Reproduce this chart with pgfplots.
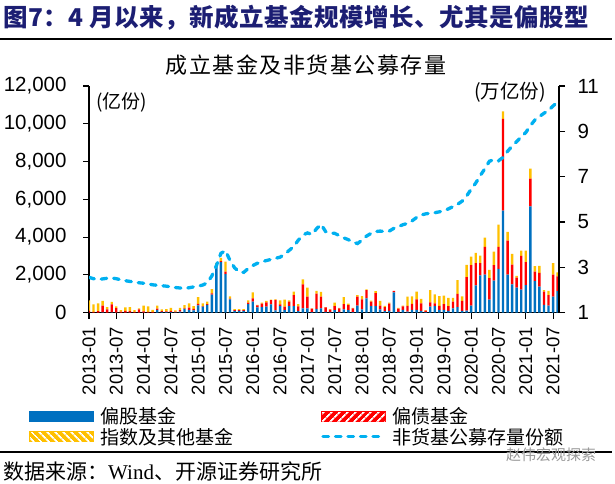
\documentclass[border=0pt]{standalone}
\usepackage{pgfplots}
\pgfplotsset{compat=1.18}
\usepackage{pgfplotstable}
\usepackage{fontspec}
\setmainfont{Liberation Sans}
\newfontfamily\cjk{Noto Sans CJK SC}
\newfontfamily\cjkwide[LetterSpace=7]{Noto Sans CJK SC}
\newfontfamily\cjktitle[LetterSpace=2]{Noto Sans CJK SC}
\newfontfamily\serif{Liberation Serif}
\usetikzlibrary{patterns.meta}

\definecolor{stockblue}{RGB}{0,112,192}
\definecolor{bondred}{RGB}{255,0,0}
\definecolor{otheryellow}{RGB}{255,192,0}
\definecolor{sharecyan}{RGB}{0,176,240}
\definecolor{titlenavy}{RGB}{28,30,115}

% monthly new fund issuance (100m shares) and non-money public fund shares (trillion)
\pgfplotstableread{
idx stock bond other share
0 0 100 550 2.56
1 0 40 400 2.50
2 0 80 420 2.47
3 20 350 260 2.49
4 0 180 120 2.52
5 20 420 130 2.53
6 10 230 90 2.50
7 0 60 70 2.45
8 10 90 180 2.41
9 10 70 210 2.38
10 0 40 100 2.35
11 10 170 50 2.32
12 10 60 300 2.30
13 10 40 280 2.27
14 0 40 110 2.23
15 150 70 160 2.21
16 40 40 100 2.19
17 30 40 120 2.17
18 30 60 160 2.14
19 20 40 60 2.11
20 60 80 120 2.09
21 200 30 170 2.08
22 150 120 230 2.10
23 120 80 150 2.14
24 390 80 350 2.17
25 320 30 140 2.22
26 420 40 120 2.32
27 960 60 230 2.62
28 2450 70 100 3.08
29 2680 50 170 3.62
30 2040 140 520 3.74
31 710 40 110 3.30
32 100 40 50 2.98
33 90 50 50 2.80
34 100 30 60 2.78
35 460 70 120 2.95
36 580 180 320 3.08
37 280 110 20 3.18
38 300 180 50 3.25
39 320 230 70 3.30
40 440 230 20 3.35
41 120 560 20 3.40
42 350 90 210 3.45
43 140 180 370 3.58
44 350 230 70 3.75
45 350 580 180 3.92
46 80 260 110 4.20
47 230 1270 270 4.42
48 230 620 480 4.52
49 30 180 20 4.45
50 200 810 140 4.70
51 230 620 250 4.90
52 40 240 20 4.58
53 30 130 30 4.52
54 140 210 180 4.50
55 50 180 30 4.40
56 180 270 380 4.30
57 140 260 80 4.22
58 30 200 20 4.12
59 370 480 80 4.05
60 180 530 170 4.20
61 760 440 30 4.38
62 350 230 60 4.50
63 350 690 100 4.58
64 180 200 240 4.60
65 80 220 60 4.58
66 90 390 50 4.60
67 1080 70 0 4.72
68 40 180 30 4.80
69 150 180 50 4.88
70 60 300 490 4.94
71 150 320 400 5.05
72 150 560 400 5.20
73 90 400 240 5.31
74 30 80 30 5.36
75 320 220 660 5.39
76 350 150 470 5.41
77 150 210 520 5.45
78 150 300 460 5.50
79 100 250 430 5.58
80 230 350 210 5.68
81 300 700 730 5.78
82 100 530 230 5.92
83 110 1770 650 6.15
84 370 2150 450 6.45
85 1450 1180 540 6.72
86 1980 640 400 7.05
87 2010 1480 490 7.35
88 690 1140 440 7.68
89 1700 820 710 7.75
90 2320 1170 1170 7.70
91 5400 4860 400 7.85
92 2020 1800 460 8.12
93 1500 1050 570 8.35
94 1330 530 90 8.55
95 1220 1790 280 8.75
96 1460 1220 600 8.95
97 5630 1470 520 9.25
98 1670 500 290 9.50
99 1380 730 370 9.65
100 410 700 90 9.80
101 370 560 220 9.92
102 850 1170 600 10.12
103 1140 780 210 10.30
}\funddata

\pgfplotsset{
  frame/.style={
    at={(89bp,171.3bp)}, anchor=south west,
    width=470bp, height=226.7bp, scale only axis,
    xmin=0, xmax=103.3,
    tick align=outside, major tick length=6bp,
    tick style={black, line width=1.1bp},
    axis line style={black, line width=1.2bp},
  },
}

\begin{document}
\begin{tikzpicture}
\path[use as bounding box] (0bp,0bp) rectangle (615bp,484bp);

% heading and rules
\node[anchor=west, inner sep=0pt, text=titlenavy,
  font=\cjktitle\bfseries\fontsize{24.5bp}{28bp}\selectfont] at (3bp,466bp)
  {图7：4 月以来，新成立基金规模增长、尤其是偏股型};
\draw[black, line width=2.3bp] (0bp,445bp) -- (612bp,445bp);
\node[inner sep=0pt, font=\cjkwide\fontsize{22bp}{24bp}\selectfont] at (306bp,419bp)
  {成立基金及非货基公募存量};

\begin{axis}[frame,
  ymin=0, ymax=12000,
  axis y line*=left, axis x line*=bottom,
  ybar stacked, bar width=2.4bp,
  ytick={0,2000,...,12000},
  scaled y ticks=false,
  yticklabel style={font=\fontsize{20.5bp}{24bp}\selectfont,
    /pgf/number format/.cd, assume math mode=true, 1000 sep={,}},
  yticklabel shift=13bp,
  xtick={0,6,...,102},
  xticklabels={2013-01,2013-07,2014-01,2014-07,2015-01,2015-07,2016-01,2016-07,2017-01,2017-07,2018-01,2018-07,2019-01,2019-07,2020-01,2020-07,2021-01,2021-07},
  xticklabel style={rotate=90, anchor=east, font=\fontsize{18.5bp}{22bp}\selectfont},
  xticklabel shift=5bp,
  legend columns=2,
  legend cell align=left,
  legend style={at={(rel axis cs:-0.128,-0.41)}, anchor=north west,
    draw=none, fill=none, inner sep=0pt, row sep=-1.5bp,
    font=\cjk\fontsize{19bp}{21bp}\selectfont,
    /tikz/every odd column/.append style={column sep=4bp},
    /tikz/every even column/.append style={column sep=86bp}},
]
\addplot[fill=stockblue, draw=none,
  legend image code/.code={\fill[stockblue] (0bp,-5.5bp) rectangle (65bp,5.5bp);}]
  table[x=idx, y=stock]{\funddata};
\addlegendentry{偏股基金}
\addplot[fill=bondred, draw=none,
  legend image code/.code={
    \fill[bondred] (0bp,-5.5bp) rectangle (65bp,5.5bp);
    \fill[pattern={Lines[angle=45,distance=6bp,line width=2.2bp]}, pattern color=white]
      (1bp,-4.5bp) rectangle (64bp,4.5bp);}]
  table[x=idx, y=bond]{\funddata};
\addlegendentry{偏债基金}
\addplot[fill=otheryellow, draw=none,
  legend image code/.code={
    \fill[otheryellow] (0bp,-5.5bp) rectangle (65bp,5.5bp);
    \fill[pattern={Lines[angle=-45,distance=6bp,line width=2.2bp]}, pattern color=white]
      (1bp,-4.5bp) rectangle (64bp,4.5bp);}]
  table[x=idx, y=other]{\funddata};
\addlegendentry{指数及其他基金}
\addlegendimage{legend image code/.code={
  \draw[sharecyan, line width=3.3bp, line cap=round, dash pattern=on 5.5bp off 7bp]
    (2bp,0bp) -- (64bp,0bp);}}
\addlegendentry{非货基公募存量份额}
\end{axis}

\begin{axis}[frame,
  ymin=1, ymax=11,
  axis y line*=right, axis x line=none,
  ytick={1,3,...,11},
  yticklabel style={font=\fontsize{20.5bp}{24bp}\selectfont,
    /pgf/number format/assume math mode=true},
  yticklabel shift=9bp,
]
\addplot[sharecyan, line width=3.3bp, line cap=round, dash pattern=on 5.5bp off 7bp]
  table[x=idx, y=share]{\funddata};
\end{axis}

% unit notes
\node[anchor=west, inner sep=0pt, font=\cjk\fontsize{19bp}{22bp}\selectfont] at (96bp,382bp) {(亿份)};
\node[anchor=west, inner sep=0pt, font=\cjk\fontsize{19.5bp}{22bp}\selectfont] at (474bp,392bp) {(万亿份)};

% footer
\draw[black, line width=2.3bp] (0bp,32bp) -- (612bp,32bp);
\node[anchor=west, inner sep=0pt, font=\cjk\fontsize{21bp}{24bp}\selectfont] at (3bp,13bp)
  {数据来源：{\serif Wind}、开源证券研究所};
\node[anchor=west, inner sep=0pt, text=black!40, font=\cjk\fontsize{15bp}{18bp}\selectfont] at (506bp,29bp)
  {赵伟宏观探索};
\end{tikzpicture}
\end{document}
